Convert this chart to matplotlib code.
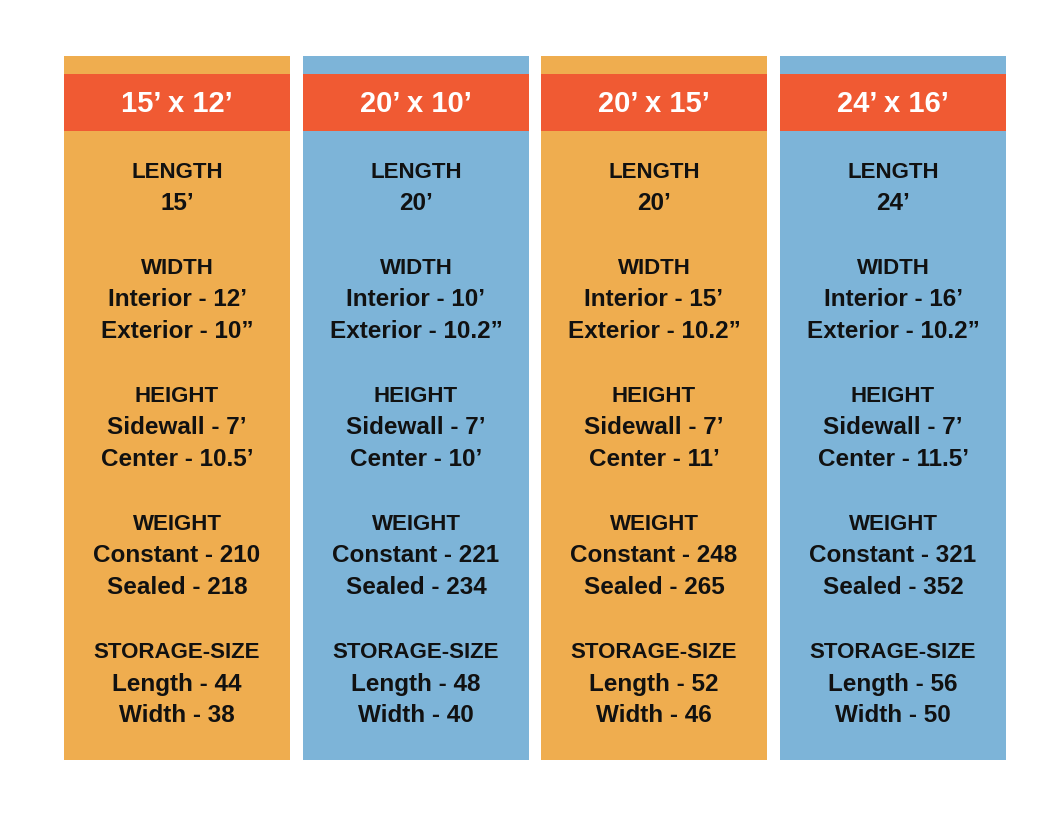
import matplotlib
matplotlib.use("Agg")
import matplotlib.pyplot as plt
from matplotlib.patches import Rectangle

sizes = ["15’ x 12’", "20’ x 10’", "20’ x 15’", "24’ x 16’"]
lengths = ["15’", "20’", "20’", "24’"]
interior = ["12’", "10’", "15’", "16’"]
exterior = ["10”", "10.2”", "10.2”", "10.2”"]
sidewall = ["7’", "7’", "7’", "7’"]
center = ["10.5’", "10’", "11’", "11.5’"]
constant = [210, 221, 248, 321]
sealed = [218, 234, 265, 352]
store_len = [44, 48, 52, 56]
store_wid = [38, 40, 46, 50]

col_left = [64, 303, 541, 780]
col_w = 226
bg = ["#EFAD4F", "#7DB4D8", "#EFAD4F", "#7DB4D8"]
red = "#F05A33"

fig = plt.figure(figsize=(10.56, 8.16), dpi=100)
ax = fig.add_axes([0, 0, 1, 1])
ax.set_xlim(0, 1056); ax.set_ylim(816, 0); ax.axis("off")

tkw = dict(ha="center", va="center", color="#111111", family=["Liberation Sans", "DejaVu Sans"])
for i in range(4):
    x0 = col_left[i]; cx = x0 + col_w / 2
    ax.add_patch(Rectangle((x0, 56), col_w, 704, color=bg[i], lw=0))
    ax.add_patch(Rectangle((x0, 74), col_w, 57, color=red, lw=0))
    ax.text(cx, 104, sizes[i], ha="center", va="center", color="white",
            fontsize=21, fontweight="bold", family=["Liberation Sans", "DejaVu Sans"])
    rows = [
        (172, "LENGTH", True), (204, lengths[i], False),
        (268, "WIDTH", True), (300, f"Interior - {interior[i]}", False),
        (332, f"Exterior - {exterior[i]}", False),
        (396, "HEIGHT", True), (428, f"Sidewall - {sidewall[i]}", False),
        (460, f"Center - {center[i]}", False),
        (524, "WEIGHT", True), (556, f"Constant - {constant[i]}", False),
        (588, f"Sealed - {sealed[i]}", False),
        (652, "STORAGE-SIZE", True), (684, f"Length - {store_len[i]}", False),
        (716, f"Width - {store_wid[i]}", False),
    ]
    for y, s, title in rows:
        if title:
            t = ax.text(cx, y, s, fontsize=16, fontweight="bold", **tkw)
            t.set_fontstretch("condensed")
        else:
            ax.text(cx, y, s, fontsize=17.5, fontweight="bold", **tkw)

fig.savefig("out.png", dpi=100)
